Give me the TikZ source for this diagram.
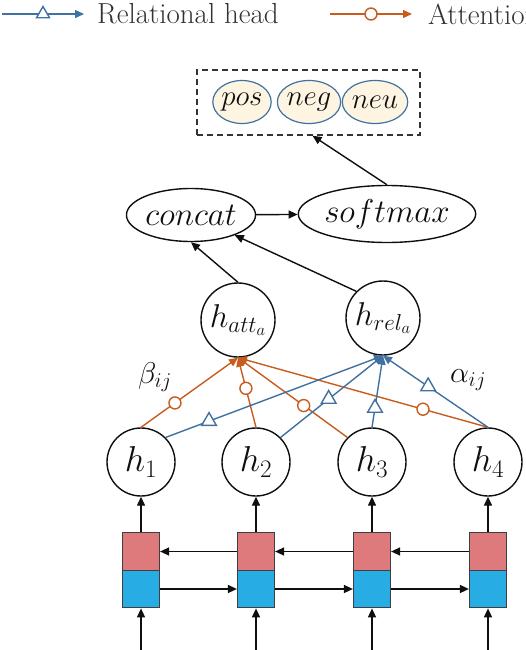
\documentclass[tikz,border=0pt]{standalone}
\usepackage{fix-cm}
\usepackage{amsmath}
\usepackage{tikz}
\usetikzlibrary{shapes.geometric, positioning, arrows.meta}
\definecolor{RelBlue}{RGB}{65, 113, 160}
\definecolor{AttOrange}{RGB}{200, 92, 30}
\definecolor{CellRed}{RGB}{222, 122, 124}
\definecolor{CellBlue}{RGB}{40, 172, 228}
\definecolor{LabelCream}{RGB}{253, 245, 226}
\definecolor{InkBlack}{RGB}{15, 15, 15}

\tikzset{
    tip/.style={-{Triangle[length=9pt, width=8pt]}},
    bigfont/.style={font=\fontsize{33}{37}\selectfont},
    midfont/.style={font=\fontsize{30}{34}\selectfont},
    hnode/.style={circle, draw=InkBlack, line width=1.4pt, minimum size=68pt, inner sep=0pt, font=\fontsize{36}{40}\selectfont},
    hagg/.style={circle, draw=InkBlack, line width=1.4pt, minimum size=74pt, inner sep=0pt, font=\fontsize{33}{37}\selectfont},
    oval/.style={ellipse, draw=InkBlack, line width=1.4pt, inner sep=0pt, bigfont},
    label/.style={ellipse, draw=RelBlue, fill=LabelCream, line width=1.2pt, minimum width=58pt, minimum height=43pt, inner sep=0pt, font=\fontsize{29}{33}\selectfont},
    cell/.style={rectangle, draw=InkBlack!80, line width=1.2pt, minimum width=37pt, minimum height=37.5pt, inner sep=0pt},
    rel/.style={RelBlue, line width=1.4pt, tip},
    att/.style={AttOrange, line width=1.4pt, tip},
    tri/.style={regular polygon, regular polygon sides=3, draw=RelBlue, fill=white, line width=1.4pt, minimum size=17pt, inner sep=0pt},
    dot/.style={circle, draw=AttOrange, fill=white, line width=1.4pt, minimum size=12pt, inner sep=0pt}
}

\begin{document}
\begin{tikzpicture}[x=1pt, y=-1pt, line width=1.4pt, InkBlack]
    \useasboundingbox (0,0) rectangle (526,650);

    % legend
    \coordinate (relA) at (2,14);
    \coordinate (relB) at (84,14);
    \draw[rel] (relA) -- node[tri, minimum size=15pt] {} (relB);
    \node[anchor=west, font=\fontsize{29}{33}\selectfont, text=InkBlack!85] (relText) at (93,14) {Relational head};
    \coordinate (attA) at (330,14);
    \coordinate (attB) at (412,14);
    \draw[att] (attA) -- node[dot] {} (attB);
    \node[anchor=west, font=\fontsize{29}{33}\selectfont, text=InkBlack!85] (attText) at (424,14) {Attention head};

    % output labels
    \node[draw=InkBlack!85, dash pattern=on 6pt off 4pt, line width=1.4pt, minimum width=223pt, minimum height=65pt] (out) at (308.5,102.5) {};
    \node[label] (pos) at (242,102) {$pos$};
    \node[label] (neg) at (309,102) {$neg$};
    \node[label] (neu) at (375,102) {$neu$};

    % concat and softmax
    \node[oval, minimum width=128pt, minimum height=53pt] (concat) at (191,215) {$concat$};
    \node[oval, minimum width=143pt, minimum height=57pt] (softmax) at (387,214) {$softmax$};
    \draw[tip] (concat) -- (softmax);
    \draw[tip] (softmax.north) -- ([xshift=4pt]out.south);

    % heads
    \node[hagg] (hatt) at (238,320) {$h_{att_a}$};
    \node[hagg] (hrel) at (383,318) {$h_{rel_a}$};
    \draw[tip] (hatt.north) -- (concat.south);
    \draw[tip] (hrel.north west) -- (concat);
    \node[midfont] (beta) at (155,377) {$\beta_{ij}$};
    \node[midfont] (alpha) at (468,380) {$\alpha_{ij}$};

    % hidden states and BiLSTM cells
    \foreach \i/\x in {1/141, 2/256, 3/372, 4/488} {
        \node[hnode] (h\i) at (\x,462) {$h_{\i}$};
        \node[cell, fill=CellRed] (red\i) at (\x,551.5) {};
        \node[cell, fill=CellBlue] (blue\i) at (\x,589) {};
        \coordinate (in\i) at (\x,650);
        \draw[tip] (in\i) -- (blue\i.south);
        \draw[tip] (red\i.north) -- (h\i.south);
    }
    \foreach \i/\j in {1/2, 2/3, 3/4} {
        \draw[tip] (blue\i.east) -- (blue\j.west);
        \draw[tip] (red\j.west) -- (red\i.east);
    }

    % attention head edges
    \draw[att] (h1.north) -- node[dot, pos=0.35] {} (hatt.south);
    \draw[att] (h2.north) -- node[dot, pos=0.56] {} (hatt.south);
    \draw[att] (h3.north west) -- node[dot, pos=0.4] {} (hatt.south);
    \draw[att] (h4.north) -- node[dot, pos=0.26] {} (hatt.south);

    % relational head edges
    \draw[rel] (h1.north east) -- node[tri, pos=0.2] {} (hrel.south);
    \draw[rel] (h2.north east) -- node[tri, pos=0.47] {} (hrel.south);
    \draw[rel] (h3.north) -- node[tri, pos=0.27] {} (hrel.south);
    \draw[rel] (h4.north) -- node[tri, pos=0.57] {} (hrel.south);
\end{tikzpicture}
\end{document}
